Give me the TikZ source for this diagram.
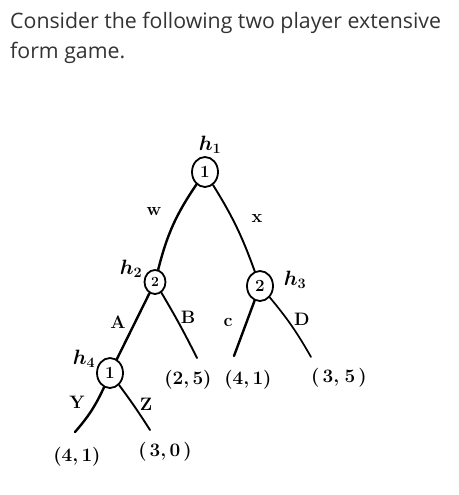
\documentclass[tikz,border=0pt]{standalone}
\usepackage{fontspec}
\usetikzlibrary{shapes.geometric}
\setmainfont{Latin Modern Roman}
\newfontfamily\qfont{Open Sans}
\begin{document}
\begin{tikzpicture}[x=1pt,y=-1pt,
  qtext/.style={font=\qfont\fontsize{21.3}{24}\selectfont, text=black!80, anchor=base west, inner sep=0pt},
  player/.style={draw, line width=1.8pt, ellipse, minimum width=26pt, minimum height=30pt, inner sep=0pt, font=\fontsize{17}{17}\selectfont\bfseries},
  hlab/.style={font=\fontsize{20}{20}\selectfont\bfseries\boldmath, inner sep=1pt},
  elab/.style={font=\fontsize{18}{18}\selectfont\bfseries, inner sep=1pt},
  payoff/.style={font=\fontsize{19}{19}\selectfont\bfseries, inner sep=1pt},
  branch/.style={line width=2.4pt, line cap=round}
]
\useasboundingbox (0,0) rectangle (458,495);
% question text
\node[qtext] (q1) at (10,29) {Consider the following two player extensive};
\node[qtext] (q2) at (10,59) {form game.};
% decision nodes
\node[player] (h1) at (205,172) {1};
\node[player, minimum width=21pt, minimum height=24pt, font=\fontsize{14}{14}\selectfont\bfseries] (h2) at (155,282) {2};
\node[player] (h3) at (260,286) {2};
\node[player] (h4) at (110,373) {1};
% node names
\node[hlab] (h1l) at (210,145) {$h_1$};
\node[hlab] (h2l) at (131,269) {$h_2$};
\node[hlab] (h3l) at (295,280) {$h_3$};
\node[hlab] (h4l) at (84,359) {$h_4$};
% leaf ends
\coordinate (e25) at (197,358);
\coordinate (e41) at (234,356);
\coordinate (e35) at (311,357);
\coordinate (e41b) at (75,432);
\coordinate (e30) at (150,430);
% branches
\draw[branch] (h1) to[bend right=10] (h2);
\draw[branch, line width=1.9pt] (h1) to[bend left=6] (h3);
\draw[branch] (h2) to (h4);
\draw[branch, line width=1.9pt] (h2) to[bend left=2] (e25);
\draw[branch] (h3) to (e41);
\draw[branch, line width=1.7pt] (h3) to[bend left=5] (e35);
\draw[branch] (h4) to[bend left=8] (e41b);
\draw[branch, line width=1.9pt] (h4) to[bend left=2] (e30);
% branch labels
\node[elab] (lw) at (154,212) {w};
\node[elab] (lx) at (257,219) {x};
\node[elab] (la) at (118,322) {A};
\node[elab] (lb) at (188,317) {B};
\node[elab] (lc) at (228,322) {c};
\node[elab] (ld) at (302,319) {D};
\node[elab] (ly) at (77,402) {Y};
\node[elab] (lz) at (146,404) {Z};
% payoffs
\node[payoff] (p25) at (188,380) {(2,\,5)};
\node[payoff] (p41) at (248,380) {(4,\,1)};
\node[payoff] (p35) at (339,378) {(\,3,\;5\,)};
\node[payoff] (p41b) at (77,457) {(4,\,1)};
\node[payoff] (p30) at (165,452) {(\,3,\,0\,)};
\end{tikzpicture}
\end{document}
